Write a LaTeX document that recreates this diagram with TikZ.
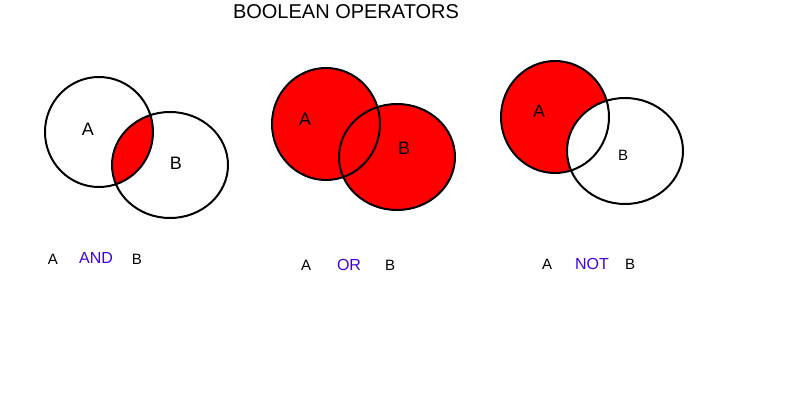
\documentclass[tikz,border=0pt]{standalone}
\usepackage{fontspec}
\setmainfont{Liberation Sans}
\definecolor{opblue}{RGB}{64,0,224}
\begin{document}
\begin{tikzpicture}[x=1pt,y=-1pt,
  ring/.style={draw=black,line width=2pt},
  lbl/.style={font=\fontsize{18}{20}\selectfont},
  sml/.style={font=\fontsize{15}{17}\selectfont},
  op/.style={font=\fontsize{16}{18}\selectfont,text=opblue}]
\useasboundingbox[fill=white] (0,0) rectangle (800,420);
\node[font=\fontsize{20}{22}\selectfont] (title) at (346,12) {BOOLEAN OPERATORS};
% AND
\begin{scope}
\clip (99,132) ellipse [x radius=54,y radius=55];
\fill[red] (170,165) ellipse [x radius=58,y radius=53];
\end{scope}
\draw[ring] (99,132) ellipse [x radius=54,y radius=55];
\draw[ring] (170,165) ellipse [x radius=58,y radius=53];
\node[lbl] (a1) at (88,129) {A};
\node[lbl] (b1) at (176,163) {B};
% OR
\fill[red] (326,124) ellipse [x radius=54,y radius=56];
\fill[red] (397,157) ellipse [x radius=58,y radius=53];
\draw[ring] (326,124) ellipse [x radius=54,y radius=56];
\draw[ring] (397,157) ellipse [x radius=58,y radius=53];
\node[lbl] (a2) at (305,119) {A};
\node[lbl] (b2) at (404,148) {B};
% NOT
\fill[red] (555,117) ellipse [x radius=54,y radius=56];
\fill[white] (625,151) ellipse [x radius=58,y radius=53];
\draw[ring] (555,117) ellipse [x radius=54,y radius=56];
\draw[ring] (625,151) ellipse [x radius=58,y radius=53];
\node[lbl] (a3) at (539,111) {A};
\node[sml] (b3) at (623,155) {B};
% labels
\node[sml] (l1a) at (53,259) {A};
\node[op] (l1o) at (96,258) {AND};
\node[sml] (l1b) at (137,259) {B};
\node[sml] (l2a) at (306,265) {A};
\node[op] (l2o) at (349,265) {OR};
\node[sml] (l2b) at (390,265) {B};
\node[sml] (l3a) at (547,264) {A};
\node[op] (l3o) at (592,264) {NOT};
\node[sml] (l3b) at (630,264) {B};
\end{tikzpicture}
\end{document}
